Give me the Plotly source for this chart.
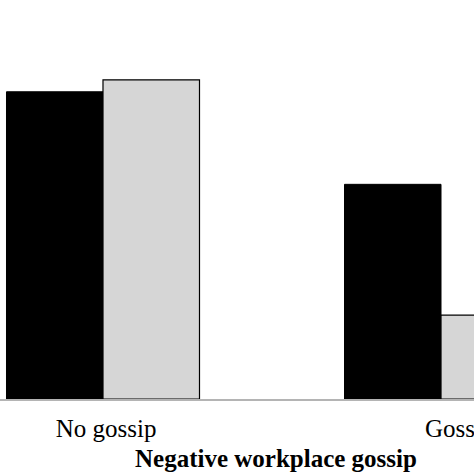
import plotly.graph_objects as go

categories = ["No gossip", "Gossip"]
series_a = [3.85, 2.69]   # black bars
series_b = [4.00, 1.05]   # light gray bars
tick_labels = ["\u00a0No gossip", "\u00a0\u00a0\u00a0\u00a0\u00a0\u00a0Gossip"]
axis_title = "Negative workplace gossip"

fig = go.Figure()
fig.add_trace(go.Bar(x=categories, y=series_a, name="Series A",
                     marker=dict(color="#000000", line=dict(color="#000000", width=1))))
fig.add_trace(go.Bar(x=categories, y=series_b, name="Series B",
                     marker=dict(color="#d6d6d6", line=dict(color="#000000", width=1.2))))

fig.update_layout(
    width=474, height=474, autosize=False,
    margin=dict(l=0, r=0, t=0, b=75),
    paper_bgcolor="white", plot_bgcolor="white",
    barmode="group", bargap=0.429, bargroupgap=0,
    showlegend=False,
    font=dict(family="Liberation Serif", color="black"),
    xaxis=dict(range=[-0.3047, 1.0976], showline=True, linecolor="#b4b4b4", linewidth=1.5,
               ticks="", showgrid=False, zeroline=False, automargin=False,
               tickmode="array", tickvals=categories, ticktext=tick_labels,
               ticklabelstandoff=6,
               tickfont=dict(family="Liberation Serif", size=25, color="black")),
    yaxis=dict(range=[0, 5], visible=False, showgrid=False, zeroline=False, automargin=False),
    annotations=[dict(text="<b>" + axis_title + "</b>", xref="paper", yref="paper",
                      x=0.583, y=-0.150, xanchor="center", yanchor="middle", showarrow=False,
                      font=dict(family="Liberation Serif", size=25, color="black"))],
)

fig.write_html("out.html",
               config={"displayModeBar": False, "responsive": False},
               post_script="document.documentElement.style.overflow='hidden';document.body.style.margin='0';document.body.style.overflow='hidden';")
